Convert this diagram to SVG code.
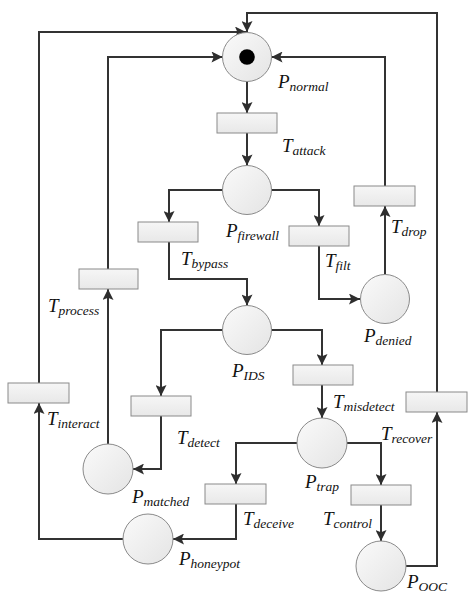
<svg xmlns="http://www.w3.org/2000/svg" width="474" height="597" viewBox="0 0 474 597">
<defs>
<linearGradient id="gp" x1="0" y1="0" x2="1" y2="1">
<stop offset="0" stop-color="#fafafa"/>
<stop offset="1" stop-color="#e4e4e4"/>
</linearGradient>
<linearGradient id="gt" x1="0" y1="0" x2="0" y2="1">
<stop offset="0" stop-color="#f6f6f6"/>
<stop offset="1" stop-color="#e8e8e8"/>
</linearGradient>
<marker id="ah" viewBox="0 0 12 12" refX="12" refY="6" markerWidth="12" markerHeight="11" markerUnits="userSpaceOnUse" orient="auto">
<path d="M0,0 L12,6 L0,12 L2.5,6 z" fill="#2e2e2e"/>
</marker>
</defs>
<style>
.place{fill:url(#gp);stroke:#8a8a8a;stroke-width:1}
.trans{fill:url(#gt);stroke:#8a8a8a;stroke-width:1}
.arc{fill:none;stroke:#333;stroke-width:2;marker-end:url(#ah)}
text{font-family:"Liberation Serif","Times New Roman",serif;font-style:italic;fill:#111}
.m{font-size:19px}
.s{font-size:13.5px}
</style>
<rect width="474" height="597" fill="#fff"/>
<g id="connectors">
<path class="arc" d="M437,392 V13 H247 V32"/>
<path class="arc" d="M39,383 V32 H246"/>
<path class="arc" d="M108,269 V57 H222.5"/>
<path class="arc" d="M385,186 V57 H271.5"/>
<path class="arc" d="M247,81.5 V113"/>
<path class="arc" d="M247,133 V165.5"/>
<path class="arc" d="M222.5,190 H169 V222"/>
<path class="arc" d="M271.5,190 H319 V226"/>
<path class="arc" d="M385,274 V206"/>
<path class="arc" d="M319,246 V299 H360"/>
<path class="arc" d="M169,242 V279 H247 V305.5"/>
<path class="arc" d="M222.5,330 H161 V396"/>
<path class="arc" d="M271.5,330 H322 V365"/>
<path class="arc" d="M161,416 V469 H133"/>
<path class="arc" d="M108,444 V289"/>
<path class="arc" d="M322,385 V418"/>
<path class="arc" d="M297,443 H236 V484"/>
<path class="arc" d="M347,443 H381 V485"/>
<path class="arc" d="M236,504 V539 H173"/>
<path class="arc" d="M123,539 H39 V403"/>
<path class="arc" d="M381,505 V541"/>
<path class="arc" d="M406,566 H437 V412"/>
</g>
<g id="P_normal">
<circle class="place" cx="247" cy="57" r="24.5"/>
<circle cx="247" cy="57" r="7.8" fill="#000"/>
<text x="278" y="88"><tspan class="m">P</tspan><tspan class="s" dy="3">normal</tspan></text>
</g>
<g id="T_attack">
<rect class="trans" x="217" y="113" width="60" height="20"/>
<text x="282" y="152"><tspan class="m">T</tspan><tspan class="s" dy="3">attack</tspan></text>
</g>
<g id="P_firewall">
<circle class="place" cx="247" cy="190" r="24.5"/>
<text x="226" y="237"><tspan class="m">P</tspan><tspan class="s" dy="3">firewall</tspan></text>
</g>
<g id="T_bypass">
<rect class="trans" x="138" y="222" width="60" height="20"/>
<text x="181" y="265"><tspan class="m">T</tspan><tspan class="s" dy="3">bypass</tspan></text>
</g>
<g id="T_filt">
<rect class="trans" x="289" y="226" width="60" height="20"/>
<text x="325" y="267"><tspan class="m">T</tspan><tspan class="s" dy="3">filt</tspan></text>
</g>
<g id="T_drop">
<rect class="trans" x="354" y="186" width="61" height="20"/>
<text x="391" y="233"><tspan class="m">T</tspan><tspan class="s" dy="3">drop</tspan></text>
</g>
<g id="P_denied">
<circle class="place" cx="385" cy="299" r="24.5"/>
<text x="364" y="342"><tspan class="m">P</tspan><tspan class="s" dy="3">denied</tspan></text>
</g>
<g id="T_process">
<rect class="trans" x="79" y="269" width="59" height="20"/>
<text x="48" y="312"><tspan class="m">T</tspan><tspan class="s" dy="3">process</tspan></text>
</g>
<g id="P_IDS">
<circle class="place" cx="247" cy="330" r="24.5"/>
<text x="232" y="377"><tspan class="m">P</tspan><tspan class="s" dy="3">IDS</tspan></text>
</g>
<g id="T_misdetect">
<rect class="trans" x="293" y="365" width="60" height="20"/>
<text x="333" y="408"><tspan class="m">T</tspan><tspan class="s" dy="3">misdetect</tspan></text>
</g>
<g id="T_interact">
<rect class="trans" x="8" y="383" width="61" height="20"/>
<text x="47" y="425"><tspan class="m">T</tspan><tspan class="s" dy="3">interact</tspan></text>
</g>
<g id="T_detect">
<rect class="trans" x="131" y="396" width="60" height="20"/>
<text x="177" y="444"><tspan class="m">T</tspan><tspan class="s" dy="3">detect</tspan></text>
</g>
<g id="T_recover">
<rect class="trans" x="406" y="392" width="61" height="20"/>
<text x="381" y="440"><tspan class="m">T</tspan><tspan class="s" dy="3">recover</tspan></text>
</g>
<g id="P_trap">
<circle class="place" cx="322" cy="443" r="25"/>
<text x="305" y="488"><tspan class="m">P</tspan><tspan class="s" dy="3">trap</tspan></text>
</g>
<g id="P_matched">
<circle class="place" cx="108" cy="469" r="25"/>
<text x="132" y="503"><tspan class="m">P</tspan><tspan class="s" dy="3">matched</tspan></text>
</g>
<g id="T_deceive">
<rect class="trans" x="205" y="484" width="61" height="20"/>
<text x="243" y="525"><tspan class="m">T</tspan><tspan class="s" dy="3">deceive</tspan></text>
</g>
<g id="T_control">
<rect class="trans" x="351" y="485" width="60" height="20"/>
<text x="323" y="525"><tspan class="m">T</tspan><tspan class="s" dy="3">control</tspan></text>
</g>
<g id="P_honeypot">
<circle class="place" cx="148" cy="539" r="25"/>
<text x="179" y="565"><tspan class="m">P</tspan><tspan class="s" dy="3">honeypot</tspan></text>
</g>
<g id="P_OOC">
<circle class="place" cx="381" cy="566" r="25"/>
<text x="407" y="588"><tspan class="m">P</tspan><tspan class="s" dy="3">OOC</tspan></text>
</g>
</svg>
